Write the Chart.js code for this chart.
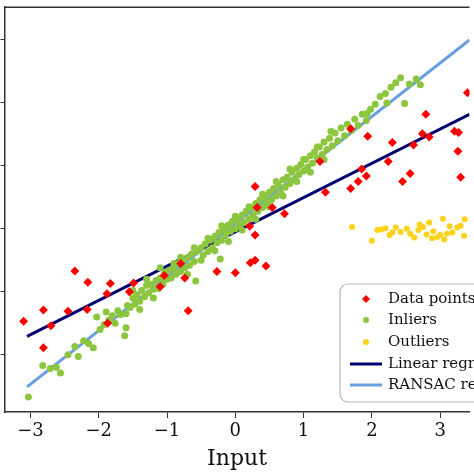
<!DOCTYPE html>
<html>
<head>
<meta charset="utf-8">
<script src="https://cdn.jsdelivr.net/npm/chart.js@4"></script>
<style>
  html, body { margin: 0; padding: 0; background: #fff; }
  #wrap { width: 474px; height: 474px; }
</style>
</head>
<body>
<div id="wrap"><canvas id="chart"></canvas></div>
<script>
// red diamonds, all data points shown off the inlier band
const dataX = [0.29, 0.32, 0.54, 0.72, 0.21, 0.29, 1.24, 1.32, 1.69, 1.94, 1.69, 1.80, 1.85, 1.92, 2.24, 2.30, 2.45, 2.56, 2.61, 2.74, 2.84, 2.79, 3.21, 3.27, 3.26, 3.40, 3.30,
  -3.10, -2.81, -2.70, -2.81, -2.35, -2.45, -2.16, -2.17, -1.83, -1.88, -1.87, -1.49, -1.55, -1.04, -1.10, -0.80, -0.74, -0.69, -0.27, 0.00, 0.22, 0.29, 0.45];
const dataY = [0.67, 0.34, 0.34, 0.24, 0.04, -0.10, 1.07, 0.58, 1.59, 1.47, 0.64, 0.75, 0.95, 0.84, 1.07, 1.37, 0.75, 0.88, 1.33, 1.51, 1.46, 1.82, 1.55, 1.53, 1.23, 2.16, 0.82,
  -1.47, -1.29, -1.54, -1.89, -0.67, -1.31, -0.85, -1.28, -0.87, -1.03, -1.50, -0.86, -1.00, -0.74, -0.92, -0.55, -0.78, -1.30, -0.68, -0.70, -0.54, -0.50, -0.59];

// green inliers
const inlierX = [-3.03, -2.82, -2.71, -2.62, -2.56, -2.45, -2.35, -2.30, -2.22, -2.15, -2.08, -2.03, -1.98, -1.92, -1.89, -1.85, -1.80, -1.76, -1.72, -1.68,
  -1.62, -1.60, -1.58, -1.54, -1.50, -1.47, -1.44, -1.40, -1.37, -1.33, -1.30, -1.27, -1.23, -1.20, -1.16, -1.13, -1.10, -1.06, -1.03, -1.00,
  -0.97, -0.94, -0.90, -0.87, -0.84, -0.80, -0.77, -0.74, -0.70, -0.67, -0.64, -0.60, -0.57, -0.58, -0.50, -0.47, -0.44, -0.40, -0.37, -0.34,
  -0.30, -0.27, -0.24, -0.20, -0.17, -0.14, -0.10, -0.07, -0.04, 0.00, 0.03, 0.06, 0.10, 0.13, 0.16, 0.20, 0.23, 0.26, 0.30, 0.33,
  0.36, 0.40, 0.43, 0.46, 0.50, 0.53, 0.56, 0.60, 0.63, 0.66, 0.70, 0.73, 0.76, 0.80, 0.83, 0.86, 0.90, 0.93, 0.96, 1.00,
  1.03, 1.06, 1.10, 1.13, 1.16, 1.20, 1.23, 1.27, 1.30, 1.34, 1.38, 1.42, 1.46, 1.50, 1.55, 1.60, 1.64, 1.70, 1.75, 1.80,
  1.86, 1.92, 1.98, 2.05, 2.12, 2.20, 2.28, 2.35, 2.42, -0.22, 1.93, 2.22, 2.48, 2.71, 2.55, 2.65,
  -0.90, -0.80, -0.70, -0.60, -0.50, -0.40, -0.30, -0.20, -0.10, 0.00, 0.10, 0.20, 0.30, 0.40, 0.50, 0.60, 0.70, 0.80, 0.90, 1.00,
  1.10, 1.20, 1.30, 1.40, -1.20, -1.10, -1.30, -1.40, -1.50, -1.60];
const inlierY = [-2.67, -2.17, -2.22, -2.20, -2.29, -2.00, -1.87, -2.03, -1.78, -1.82, -1.89, -1.40, -1.60, -1.52, -1.32, -1.45, -1.38, -1.50, -1.30, -1.36,
  -1.70, -1.57, -1.22, -1.25, -1.10, -1.20, -1.05, -1.15, -0.98, -1.08, -0.90, -1.02, -0.88, -0.96, -0.82, -0.95, -0.78, -0.88, -0.70, -0.80,
  -0.66, -0.78, -0.62, -0.72, -0.55, -0.68, -0.50, -0.62, -0.46, -0.58, -0.40, -0.52, -0.36, -0.83, -0.30, -0.42, -0.24, -0.36, -0.18, -0.30,
  -0.12, -0.22, -0.06, -0.18, 0.00, -0.10, 0.06, -0.04, 0.12, 0.00, 0.16, 0.06, 0.22, 0.10, 0.28, 0.16, 0.34, 0.22, 0.40, 0.28,
  0.46, 0.34, 0.50, 0.40, 0.58, 0.46, 0.64, 0.52, 0.70, 0.58, 0.78, 0.66, 0.82, 0.72, 0.90, 0.78, 0.96, 0.86, 1.02, 0.92,
  1.10, 0.98, 1.16, 1.04, 1.22, 1.12, 1.30, 1.18, 1.38, 1.26, 1.44, 1.32, 1.52, 1.40, 1.60, 1.48, 1.66, 1.56, 1.74, 1.64,
  1.82, 1.72, 1.90, 1.98, 2.10, 2.15, 2.25, 2.32, 2.40, -0.48, 1.83, 2.00, 1.99, 2.29, 2.30, 2.38,
  -0.55, -0.45, -0.72, -0.30, -0.50, -0.15, -0.35, 0.05, -0.20, 0.20, -0.02, 0.35, 0.15, 0.55, 0.35, 0.75, 0.52, 0.95, 0.75, 1.10,
  0.90, 1.30, 1.10, 1.55, -1.10, -0.62, -0.80, -1.28, -0.98, -1.35];

// yellow outliers
const outlierX = [1.71, 2.00, 2.14, 2.26, 2.35, 2.51, 2.62, 2.75, 2.84, 3.04, 3.06, 3.18, 3.35, 3.36, 2.08, 2.20, 2.42, 2.56, 2.68, 2.80, 2.90, 2.96, 3.10, 3.25, 3.30, 2.30, 2.70, 3.00, 3.14, 2.88];
const outlierY = [0.03, -0.19, -0.01, -0.10, 0.02, 0.00, -0.14, 0.03, 0.10, 0.16, -0.17, -0.06, -0.11, 0.15, -0.02, 0.01, -0.05, -0.08, -0.02, -0.09, -0.04, -0.13, -0.08, 0.02, 0.05, -0.06, 0.07, -0.10, 0.04, -0.15];

// fitted lines (end points)
const lineX = [-3.05, 3.43];
const linearY = [-1.71, 1.82];
const ransacY = [-2.51, 3.00];

const xTicks = [-3, -2, -1, 0, 1, 2, 3];
const legendLabels = ["Data points", "Inliers", "Outliers", "Linear regression", "RANSAC regressor"];

const color = {
  data: "#ff0000",
  inlier: "#8cc63f",
  outlier: "#ffd21a",
  linear: "#000070",
  ransac: "#6a9fde"
};

const pts = (xs, ys) => xs.map((x, i) => ({ x: x, y: ys[i] }));
const serif = "'DejaVu Serif', 'Liberation Serif', serif";

// legend drawn inside the plot, lower right
const innerLegend = {
  id: "innerLegend",
  afterDraw(chart) {
    const c = chart.ctx;
    const x0 = 340, y0 = 284, w = 160, h = 118;
    c.save();
    c.fillStyle = "rgba(255,255,255,0.85)";
    c.strokeStyle = "#b8b8b8";
    c.lineWidth = 1.2;
    c.beginPath();
    c.roundRect(x0, y0, w, h, 8);
    c.fill();
    c.stroke();
    c.font = "15px " + serif;
    c.textBaseline = "middle";
    const rows = [299, 320, 342, 364, 385];
    rows.forEach((ry, i) => {
      const mx = 366;
      if (i === 0) {
        c.fillStyle = color.data;
        c.beginPath();
        c.moveTo(mx, ry - 4); c.lineTo(mx + 4, ry); c.lineTo(mx, ry + 4); c.lineTo(mx - 4, ry);
        c.closePath(); c.fill();
      } else if (i < 3) {
        c.fillStyle = i === 1 ? color.inlier : color.outlier;
        c.beginPath(); c.arc(mx, ry, 3, 0, Math.PI * 2); c.fill();
      } else {
        c.strokeStyle = i === 3 ? color.linear : color.ransac;
        c.lineWidth = 3;
        c.beginPath(); c.moveTo(350, ry); c.lineTo(382, ry); c.stroke();
      }
      c.fillStyle = "#111";
      c.fillText(legendLabels[i], 388, ry);
    });
    c.restore();
  }
};

new Chart(document.getElementById("chart").getContext("2d"), {
  type: "scatter",
  data: {
    datasets: [
      { label: legendLabels[0], data: pts(dataX, dataY), pointStyle: "rectRot", radius: 4.5, backgroundColor: color.data, borderWidth: 0 },
      { label: legendLabels[1], data: pts(inlierX, inlierY), pointStyle: "circle", radius: 3.5, backgroundColor: color.inlier, borderWidth: 0 },
      { label: legendLabels[2], data: pts(outlierX, outlierY), pointStyle: "circle", radius: 3, backgroundColor: color.outlier, borderWidth: 0 },
      { label: legendLabels[3], type: "line", data: pts(lineX, linearY), borderColor: color.linear, borderWidth: 3, pointRadius: 0, fill: false },
      { label: legendLabels[4], type: "line", data: pts(lineX, ransacY), borderColor: color.ransac, borderWidth: 3, pointRadius: 0, fill: false }
    ]
  },
  options: {
    responsive: true,
    maintainAspectRatio: false,
    animation: false,
    layout: { padding: { left: 0, top: 6, right: 0, bottom: 0 } },
    plugins: { legend: { display: false }, tooltip: { enabled: false } },
    scales: {
      x: {
        type: "linear",
        min: -3.38,
        max: 3.43,
        afterBuildTicks: (axis) => { axis.ticks = xTicks.map(v => ({ value: v })); },
        ticks: { color: "#111", font: { family: serif, size: 18 }, callback: (v) => v < 0 ? "\u2212" + Math.abs(v) : String(v), padding: 3 },
        grid: { drawOnChartArea: false, tickLength: 6, color: "#333" },
        border: { color: "#333", width: 1.5 },
        title: { display: true, text: "Input", color: "#111", font: { family: serif, size: 22 }, padding: { top: 0, bottom: 2 } }
      },
      y: {
        type: "linear",
        min: -2.91,
        max: 3.52,
        afterBuildTicks: (axis) => { axis.ticks = [-2, -1, 0, 1, 2, 3].map(v => ({ value: v })); },
        ticks: { callback: () => "", padding: 0 },
        grid: { drawOnChartArea: false, tickLength: 4, color: "#333" },
        border: { color: "#333", width: 1.5 }
      }
    }
  },
  plugins: [innerLegend, {
    id: "topBorder",
    afterDraw(chart) {
      const a = chart.chartArea, c = chart.ctx;
      c.save(); c.strokeStyle = "#333"; c.lineWidth = 1.5;
      c.beginPath(); c.moveTo(a.left, a.top); c.lineTo(a.right, a.top); c.stroke();
      c.restore();
    }
  }]
});
</script>
</body>
</html>
